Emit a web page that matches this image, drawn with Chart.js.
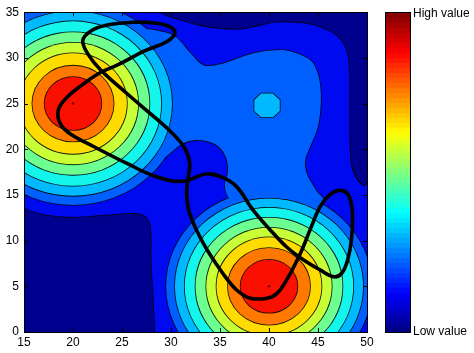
<!DOCTYPE html>
<html><head><meta charset="utf-8">
<script src="https://cdn.jsdelivr.net/npm/chart.js@4.4.1/dist/chart.umd.min.js"></script>
<style>html,body{margin:0;padding:0;background:#fff}</style>
</head><body>
<canvas id="c" width="474" height="353"></canvas>
<script>
// ---- data ----
const xTicks = [15, 20, 25, 30, 35, 40, 45, 50];
const yTicks = [0, 5, 10, 15, 20, 25, 30, 35];
const colorbarLabels = ['High value', 'Low value'];
// fill colour of each contour band, lowest to highest
const levelColors = ['rgb(0,0,143)', 'rgb(0,10,240)', 'rgb(0,95,255)', 'rgb(0,185,255)', 'rgb(20,245,235)',
  'rgb(110,255,145)', 'rgb(200,255,55)', 'rgb(255,220,0)', 'rgb(255,120,0)', 'rgb(250,16,0)'];
// the two peaks and the radii of their contour rings (levels 2..9)
const peakX = [20, 40];
const peakY = [25, 5];
const ringLevels = [2, 3, 4, 5, 6, 7, 8, 9];
const peakARadii = [11.1, 10.1, 9.0, 7.8, 6.65, 5.5, 4.15, 2.9];
const peakBRadii = [10.5, 9.6, 8.6, 7.5, 6.4, 5.36, 4.2, 2.9];
// level 1 region (everything that is not dark navy)
const lowBandX = [14, 14, 15, 17, 20, 23, 25.5, 27, 27.8, 28.0, 28.0, 28.2, 28.4, 28.5, 51, 51, 49.6, 48.8, 48.3, 48.2, 48.2, 47.9, 47.0, 46, 44, 41, 39, 37, 35, 33, 31, 29.5, 28.5, 28];
const lowBandY = [36, 14.3, 13.6, 12.9, 12.6, 12.8, 13.0, 12.9, 12.1, 10.5, 8, 4, 0, -1, -1, 15.2, 16.0, 17.0, 19, 24, 28, 30.8, 32.3, 33, 33.7, 33.9, 33.5, 33.1, 33.2, 33.5, 34.1, 34.6, 35.2, 36];
// level 2 plateau joining the peaks
const midBandX = [25, 27, 29, 30.5, 32, 33.3, 35, 36.7, 38.4, 40.1, 41.8, 43.5, 44.5, 45.1, 45.3, 45.0, 44.2, 43.7, 43.9, 44.8, 45.5, 42, 38, 36, 35.5, 35.8, 35.7, 35.2, 34.2, 32.5, 31, 29.5, 28.2, 27, 25, 24];
const midBandY = [31, 33.0, 32.9, 32.3, 30.5, 29.2, 29.3, 29.9, 30.5, 30.8, 30.8, 30.2, 29.4, 27.8, 25.4, 22.5, 20.3, 18.8, 17.2, 15.5, 14, 12, 12, 14.5, 16, 17.5, 18.8, 19.9, 20.7, 21.0, 20.5, 19.2, 18.3, 18, 20, 26];
// small level 3 bump
const bumpX = [39.2, 40.4, 41.1, 41.1, 40.4, 39.2, 38.5, 38.5];
const bumpY = [26.1, 26.1, 25.4, 24.2, 23.5, 23.5, 24.2, 25.4];
// black closed path
const pathX = [27.9, 25.5, 22.8, 21.6, 21.0, 21.9, 23.5, 26.2, 28.5, 29.9, 30.4, 29.6, 27.2, 24.5, 22.8, 21.0, 19.4, 18.5, 18.7, 19.7, 22.1, 25.5, 28.5, 31.2, 33.6, 35.3, 36.7, 38.4, 40.1, 41.8, 43.5, 45.2, 46.6, 47.4, 48.0, 48.4, 48.5, 48.1, 47.2, 46.2, 45.2, 44.2, 43.2, 41.8, 40.8, 39.8, 38.1, 36.7, 35.3, 33.3, 31.9, 31.6, 31.8, 31.9, 31.3, 29.9, 27.9];
const pathY = [23.9, 26.1, 28.7, 30.3, 31.9, 33.0, 33.6, 33.9, 33.8, 33.4, 32.7, 31.8, 30.7, 29.2, 28.4, 27.1, 25.7, 24.3, 22.8, 21.7, 20.3, 18.45, 17.0, 16.5, 17.3, 16.9, 15.9, 13.3, 11.2, 9.3, 7.9, 6.8, 6.05, 6.4, 7.8, 10, 13.2, 15.0, 15.5, 15.0, 13.7, 11.2, 8.6, 5.7, 4.2, 3.7, 3.7, 4.6, 6.4, 9.7, 13.0, 15.3, 17.2, 18.6, 20.3, 22.0, 23.9];

// ---- helpers ----
const zip = (xs, ys) => xs.map((x, i) => ({ x, y: ys[i] }));
function jet64(i) {
  const t = (i + 0.5) / 64;
  const c = v => Math.round(255 * Math.max(0, Math.min(1, v)));
  return `rgb(${c(1.5 - Math.abs(4 * t - 3))},${c(1.5 - Math.abs(4 * t - 2))},${c(1.5 - Math.abs(4 * t - 1))})`;
}
function smoothClosed(ctx, p) {
  const n = p.length;
  ctx.moveTo(p[0][0], p[0][1]);
  for (let i = 0; i < n; i++) {
    const a = p[(i - 1 + n) % n], b = p[i], c = p[(i + 1) % n], d = p[(i + 2) % n];
    ctx.bezierCurveTo(b[0] + (c[0] - a[0]) / 6, b[1] + (c[1] - a[1]) / 6,
      c[0] - (d[0] - b[0]) / 6, c[1] - (d[1] - b[1]) / 6, c[0], c[1]);
  }
  ctx.closePath();
}

const shapes = [
  { level: 1, xs: lowBandX, ys: lowBandY, smooth: true },
  { level: 2, xs: midBandX, ys: midBandY, smooth: true },
  { level: 3, xs: bumpX, ys: bumpY, smooth: false },
];
ringLevels.forEach((lv, i) => {
  shapes.push({ level: lv, cx: peakX[0], cy: peakY[0], r: peakARadii[i] });
  shapes.push({ level: lv, cx: peakX[1], cy: peakY[1], r: peakBRadii[i] });
});

const contourPlugin = {
  id: 'contour',
  beforeDatasetsDraw(chart) {
    const { ctx, chartArea: a, scales: { x, y } } = chart;
    ctx.save();
    ctx.beginPath(); ctx.rect(a.left, a.top, a.right - a.left, a.bottom - a.top); ctx.clip();
    ctx.fillStyle = levelColors[0];
    ctx.fillRect(a.left, a.top, a.right - a.left, a.bottom - a.top);
    const pathOf = s => {
      ctx.beginPath();
      if (s.r !== undefined) {
        const px = x.getPixelForValue(s.cx), py = y.getPixelForValue(s.cy);
        ctx.ellipse(px, py, Math.abs(x.getPixelForValue(s.cx + s.r) - px), Math.abs(y.getPixelForValue(s.cy + s.r) - py), 0, 0, Math.PI * 2);
      } else {
        const p = s.xs.map((v, i) => [x.getPixelForValue(v), y.getPixelForValue(s.ys[i])]);
        if (s.smooth) smoothClosed(ctx, p);
        else { ctx.moveTo(p[0][0], p[0][1]); p.slice(1).forEach(q => ctx.lineTo(q[0], q[1])); ctx.closePath(); }
      }
    };
    for (let lv = 1; lv < levelColors.length; lv++) {
      const list = shapes.filter(s => s.level === lv);
      ctx.strokeStyle = 'rgba(0,0,0,0.9)'; ctx.lineWidth = 1.6;
      list.forEach(s => { pathOf(s); ctx.stroke(); });
      ctx.fillStyle = levelColors[lv];
      list.forEach(s => { pathOf(s); ctx.fill(); });
    }
    ctx.restore();
  },
  afterDatasetsDraw(chart) {
    const { ctx, chartArea: a, scales: { x, y } } = chart;
    ctx.save();
    ctx.strokeStyle = '#000'; ctx.lineWidth = 1;
    ctx.beginPath();
    xTicks.forEach(v => { const p = Math.round(x.getPixelForValue(v)) + 0.5;
      ctx.moveTo(p, a.bottom); ctx.lineTo(p, a.bottom - 4); ctx.moveTo(p, a.top); ctx.lineTo(p, a.top + 4); });
    yTicks.forEach(v => { const p = Math.round(y.getPixelForValue(v)) + 0.5;
      ctx.moveTo(a.left, p); ctx.lineTo(a.left + 4, p); ctx.moveTo(a.right, p); ctx.lineTo(a.right - 4, p); });
    ctx.stroke();
    ctx.strokeRect(Math.round(a.left) + 0.5, Math.round(a.top) + 0.5, Math.round(a.right - a.left), Math.round(a.bottom - a.top));
    // colour bar
    const cbL = 385, cbW = 25, top = a.top, h = a.bottom - a.top;
    for (let i = 0; i < 64; i++) {
      ctx.fillStyle = jet64(i);
      const y0 = top + h - (i + 1) * h / 64;
      ctx.fillRect(cbL, Math.floor(y0), cbW, Math.ceil(h / 64) + 1);
    }
    ctx.strokeRect(cbL + 0.5, Math.round(top) + 0.5, cbW, Math.round(h));
    ctx.fillStyle = '#000';
    ctx.font = '12px "Liberation Sans", Arial, sans-serif';
    ctx.textAlign = 'left'; ctx.textBaseline = 'middle';
    ctx.fillText(colorbarLabels[0], 413, top + 1);
    ctx.fillText(colorbarLabels[1], 413, a.bottom);
    ctx.restore();
  }
};

new Chart(document.getElementById('c'), {
  type: 'scatter',
  data: {
    datasets: [
      { data: zip(pathX, pathY), showLine: true, tension: 0.4, borderColor: '#000', borderWidth: 3.6,
        pointRadius: 0, fill: false, borderCapStyle: 'round', borderJoinStyle: 'round' },
      { data: zip(peakX, peakY), pointRadius: 1.2, pointBackgroundColor: 'rgb(110,0,0)', pointBorderWidth: 0, showLine: false }
    ]
  },
  options: {
    responsive: false, animation: false, events: [],
    layout: { padding: { left: 0, right: 107, top: 12, bottom: 0 } },
    plugins: { legend: { display: false }, tooltip: { enabled: false } },
    scales: {
      x: { type: 'linear', min: 15, max: 50, grid: { display: false, drawTicks: false }, border: { display: false },
        afterBuildTicks: s => { s.ticks = xTicks.map(v => ({ value: v })); },
        afterFit: s => { s.height = 21; },
        ticks: { padding: 3, color: '#000', font: { family: '"Liberation Sans", Arial, sans-serif', size: 12 } } },
      y: { type: 'linear', min: 0, max: 35, grid: { display: false, drawTicks: false }, border: { display: false },
        afterBuildTicks: s => { s.ticks = yTicks.map(v => ({ value: v })); },
        afterFit: s => { s.width = 24; },
        ticks: { padding: 5, color: '#000', font: { family: '"Liberation Sans", Arial, sans-serif', size: 12 } } }
    }
  },
  plugins: [contourPlugin]
});
</script>
</body></html>
